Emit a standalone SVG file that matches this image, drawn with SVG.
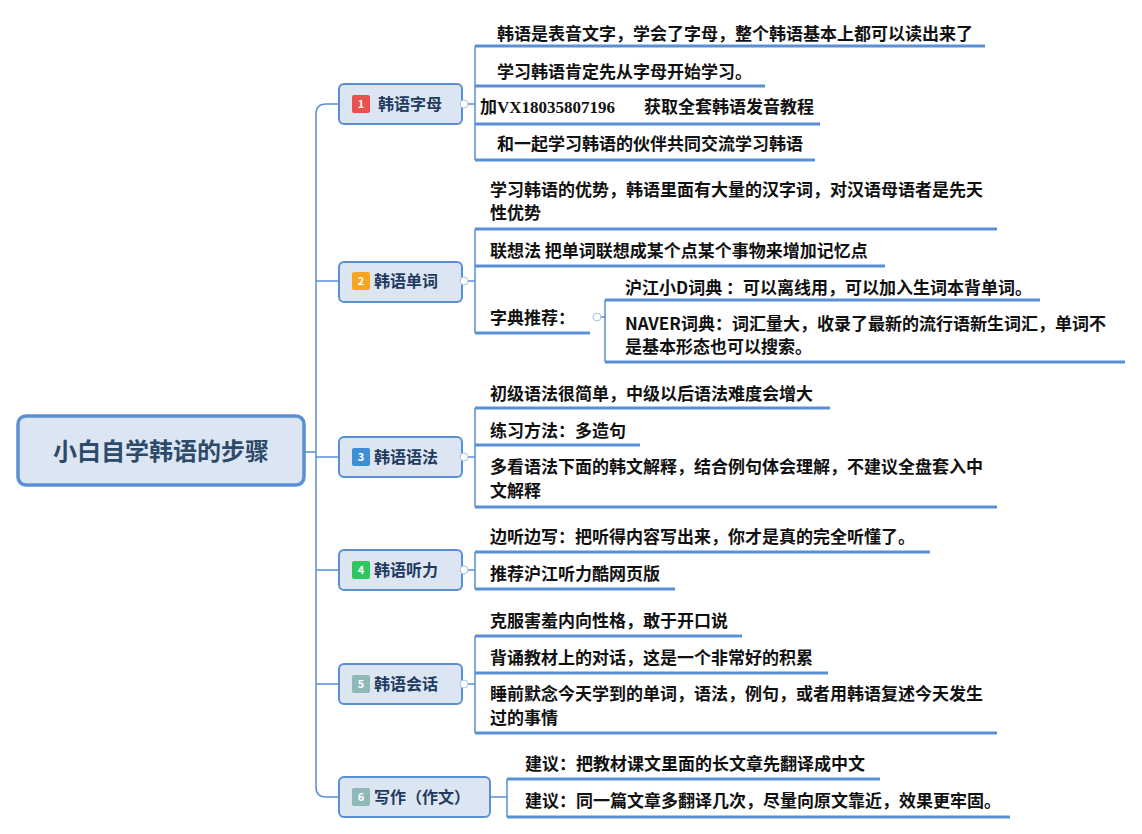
<svg xmlns="http://www.w3.org/2000/svg" width="1142" height="834" viewBox="0 0 1142 834">
<style>
text{font-family:"Noto Sans CJK SC","Noto Sans",sans-serif;font-weight:bold;font-size:17px;fill:#111}
.c{fill:none;stroke:#5b8fd4;stroke-width:1.5}
.u{stroke:#5b8fd4;stroke-width:3}
.n{fill:#dce6f2;stroke:#5b8fd4;stroke-width:2}
.nt{font-size:16px;fill:#1f3a5f}
.b{font-size:11px;fill:#fff;text-anchor:middle}
.cc{fill:#fff;stroke:#a9c1e3;stroke-width:1}
</style>
<rect width="1142" height="834" fill="#fff"/>
<g id="connectors">
<path class="c" d="M304 452H316M316 114Q316 104 326 104H339M316 114V787Q316 797 326 797H339M316 281H339M316 457H339M316 570H339M316 684H339"/>
<path class="c" d="M464 104H475M475 46V160M464 281H475M475 229V333M597 317H605M605 300V362M464 457H475M475 408V507M464 570H475M475 552V589M464 684H475M475 636V733M490 797H507M507 779V817"/>
<path class="u" d="M475 46H985M475 86H765M475 124H820M475 160H815M475 229H997M475 266H885M475 333H590M605 300H1040M605 362H1125M475 408H830M475 445H640M475 507H997M475 552H930M475 589H675M475 636H742M475 673H828M475 733H997M507 779H880M507 817H1010"/>
</g>
<g id="root"><rect x="18" y="416" width="286" height="69" rx="8" fill="#dce6f2" stroke="#5b8fd4" stroke-width="3.5"/><text x="161" y="460" text-anchor="middle" style="font-size:24px;fill:#2e4a6b">小白自学韩语的步骤</text></g>
<g id="n1"><rect class="n" x="339" y="84" width="123" height="40" rx="5"/><rect x="352" y="95" width="18" height="18" rx="2" fill="#e8514d"/><text class="b" x="361" y="108">1</text><text class="nt" x="378" y="110">韩语字母</text><circle class="cc" cx="464" cy="104" r="4"/></g>
<g id="n2"><rect class="n" x="339" y="262" width="123" height="40" rx="5"/><rect x="352" y="272" width="18" height="18" rx="2" fill="#f5a623"/><text class="b" x="361" y="285">2</text><text class="nt" x="374" y="287">韩语单词</text><circle class="cc" cx="464" cy="281" r="4"/></g>
<g id="n3"><rect class="n" x="339" y="437" width="123" height="40" rx="5"/><rect x="352" y="448" width="18" height="18" rx="2" fill="#3d8fd6"/><text class="b" x="361" y="461">3</text><text class="nt" x="374" y="463">韩语语法</text><circle class="cc" cx="464" cy="457" r="4"/></g>
<g id="n4"><rect class="n" x="339" y="550" width="123" height="40" rx="5"/><rect x="352" y="561" width="18" height="18" rx="2" fill="#2dc75f"/><text class="b" x="361" y="574">4</text><text class="nt" x="374" y="576">韩语听力</text><circle class="cc" cx="464" cy="570" r="4"/></g>
<g id="n5"><rect class="n" x="339" y="664" width="123" height="40" rx="5"/><rect x="352" y="675" width="18" height="18" rx="2" fill="#8fb8b8"/><text class="b" x="361" y="688">5</text><text class="nt" x="374" y="690">韩语会话</text><circle class="cc" cx="464" cy="684" r="4"/></g>
<g id="n6"><rect class="n" x="339" y="777" width="151" height="40" rx="5"/><rect x="352" y="788" width="18" height="18" rx="2" fill="#8fb8b8"/><text class="b" x="361" y="801">6</text><text class="nt" x="374" y="803">写作（作文）</text></g>
<g id="leaves">
<text x="497" y="40">韩语是表音文字，学会了字母，整个韩语基本上都可以读出来了</text>
<text x="497" y="78">学习韩语肯定先从字母开始学习。</text>
<text x="480" y="113" style="font-family:'Liberation Serif','Noto Sans CJK SC',serif;font-size:17px">加VX18035807196</text><text x="644" y="113">获取全套韩语发音教程</text>
<text x="497" y="150">和一起学习韩语的伙伴共同交流学习韩语</text>
<text x="490" y="196">学习韩语的优势，韩语里面有大量的汉字词，对汉语母语者是先天</text>
<text x="490" y="219">性优势</text>
<text x="490" y="257">联想法 把单词联想成某个点某个事物来增加记忆点</text>
<text x="490" y="324">字典推荐：</text><circle class="cc" cx="597" cy="317" r="4"/>
<text x="625" y="294">沪江小D词典 ：可以离线用，可以加入生词本背单词。</text>
<text x="625" y="330">NAVER词典：词汇量大，收录了最新的流行语新生词汇，单词不</text>
<text x="625" y="353">是基本形态也可以搜索。</text>
<text x="490" y="400">初级语法很简单，中级以后语法难度会增大</text>
<text x="490" y="437">练习方法：多造句</text>
<text x="490" y="473">多看语法下面的韩文解释，结合例句体会理解，不建议全盘套入中</text>
<text x="490" y="497">文解释</text>
<text x="490" y="543">边听边写：把听得内容写出来，你才是真的完全听懂了。</text>
<text x="490" y="580">推荐沪江听力酷网页版</text>
<text x="490" y="627">克服害羞内向性格，敢于开口说</text>
<text x="490" y="664">背诵教材上的对话，这是一个非常好的积累</text>
<text x="490" y="700">睡前默念今天学到的单词，语法，例句，或者用韩语复述今天发生</text>
<text x="490" y="724">过的事情</text>
<text x="525" y="770">建议：把教材课文里面的长文章先翻译成中文</text>
<text x="525" y="807">建议：同一篇文章多翻译几次，尽量向原文靠近，效果更牢固。</text>
</g>
</svg>
